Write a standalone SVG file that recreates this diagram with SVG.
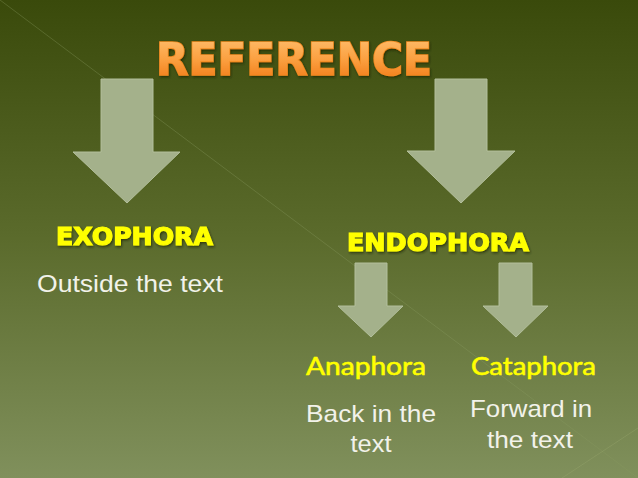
<svg xmlns="http://www.w3.org/2000/svg" width="638" height="478" viewBox="0 0 638 478">
<defs>
<linearGradient id="bg" x1="0" y1="0" x2="0" y2="1">
<stop offset="0" stop-color="#3a4a0b"/>
<stop offset="0.5" stop-color="#5b6b2c"/>
<stop offset="1" stop-color="#80905c"/>
</linearGradient>
<linearGradient id="og" x1="0" y1="0" x2="0" y2="1">
<stop offset="0" stop-color="#ffc070"/>
<stop offset="0.5" stop-color="#fba040"/>
<stop offset="1" stop-color="#ee7410"/>
</linearGradient>
<filter id="sh" x="-5%" y="-20%" width="110%" height="140%">
<feDropShadow dx="1" dy="1.5" stdDeviation="0.8" flood-color="#1a2000" flood-opacity="0.7"/>
</filter>
</defs>
<style>
.arrow{fill:#a4b18b;stroke:#b3bf9c;stroke-width:1}
.title{font-family:"DejaVu Sans",sans-serif;font-weight:bold;font-size:44px;fill:url(#og);stroke:#f08a20;stroke-width:1.6;paint-order:stroke}
.head{font-family:"DejaVu Sans",sans-serif;font-weight:bold;font-size:25px;fill:#ffff00;stroke:#ffff00;stroke-width:1.2}
.sub{font-family:"Lato","Noto Sans",sans-serif;font-size:25px;fill:#ffff00;stroke:#ffff00;stroke-width:0.6}
.body{font-family:"Liberation Sans",Arial,sans-serif;font-size:24px;fill:#f2f2ea;text-anchor:middle}
</style>
<rect width="638" height="478" fill="url(#bg)"/>
<line x1="0" y1="0" x2="638" y2="478" stroke="#8a9a60" stroke-opacity="0.35" stroke-width="1"/>
<line x1="638" y1="428" x2="562" y2="478" stroke="#9aaa70" stroke-opacity="0.35" stroke-width="1"/>
<g id="reference" filter="url(#sh)">
<text class="title" x="156" y="75" textLength="276" lengthAdjust="spacingAndGlyphs">REFERENCE</text>
</g>
<g id="connectors">
<polygon class="arrow" points="101,79 153,79 153,152 180,152 127,203 73,152 101,152"/>
<polygon class="arrow" points="435,79 487,79 487,151 515,151 461,203 407,151 435,151"/>
<polygon class="arrow" points="355,263 387,263 387,306 403,306 371,337 338,306 355,306"/>
<polygon class="arrow" points="499,263 532,263 532,306 548,306 516,337 483,306 499,306"/>
</g>
<g id="exophora">
<text class="head" x="56" y="245" textLength="157" lengthAdjust="spacingAndGlyphs" filter="url(#sh)">EXOPHORA</text>
<text class="body" x="130" y="292" textLength="186" lengthAdjust="spacingAndGlyphs">Outside the text</text>
</g>
<g id="endophora">
<text class="head" x="347" y="251" textLength="182" lengthAdjust="spacingAndGlyphs" filter="url(#sh)">ENDOPHORA</text>
</g>
<g id="anaphora">
<text class="sub" x="306" y="375" textLength="120" lengthAdjust="spacingAndGlyphs">Anaphora</text>
<text class="body" x="371" y="422" textLength="130" lengthAdjust="spacingAndGlyphs">Back in the</text>
<text class="body" x="371" y="452" textLength="41" lengthAdjust="spacingAndGlyphs">text</text>
</g>
<g id="cataphora">
<text class="sub" x="471" y="375" textLength="125" lengthAdjust="spacingAndGlyphs">Cataphora</text>
<text class="body" x="531" y="417" textLength="122" lengthAdjust="spacingAndGlyphs">Forward in</text>
<text class="body" x="530" y="448" textLength="86" lengthAdjust="spacingAndGlyphs">the text</text>
</g>
</svg>
